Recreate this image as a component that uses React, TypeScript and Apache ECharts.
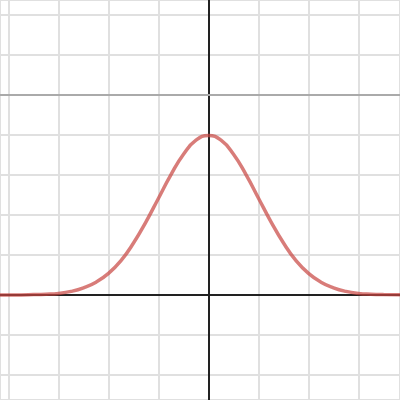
import React, { useEffect, useRef } from 'react';
import * as echarts from 'echarts';

// points (x in grid units, y in tenths)
const curveX = [
  -4.2, -3.9, -3.5, -3.25, -3, -2.75, -2.5, -2.25, -2, -1.75, -1.5, -1.25, -1, -0.75, -0.5, -0.25,
  0, 0.25, 0.5, 0.75, 1, 1.25, 1.5, 1.75, 2, 2.25, 2.5, 2.75, 3, 3.25, 3.5, 3.9,
];
const curveY = [
  0.0001, 0.0002, 0.001, 0.002, 0.004, 0.009, 0.018, 0.032, 0.054, 0.086, 0.13, 0.183, 0.242, 0.301, 0.352, 0.387,
  0.399, 0.387, 0.352, 0.301, 0.242, 0.183, 0.13, 0.086, 0.054, 0.032, 0.018, 0.009, 0.004, 0.002, 0.001, 0.0002,
];
const levelLine = 0.5;

const xRange = [-4.17, 3.83];
const yRange = [-0.2625, 0.7375];

const App: React.FC = () => {
  const chartRef = useRef<HTMLDivElement>(null);

  useEffect(() => {
    if (!chartRef.current) return;
    const chart = echarts.init(chartRef.current, null, { renderer: 'svg' });

    const gridLine = { show: true, lineStyle: { color: '#e0e0e0', width: 2 } };
    const axisLine = { show: true, onZero: true, lineStyle: { color: '#222', width: 2 } };

    chart.setOption({
      animation: false,
      backgroundColor: '#fff',
      grid: { left: 0, right: 0, top: 0, bottom: 0 },
      xAxis: {
        type: 'value',
        min: xRange[0],
        max: xRange[1],
        splitNumber: 8,
        axisLine,
        axisTick: { show: false },
        axisLabel: { show: false },
        splitLine: gridLine,
      },
      yAxis: {
        type: 'value',
        min: yRange[0],
        max: yRange[1],
        splitNumber: 10,
        axisLine,
        axisTick: { show: false },
        axisLabel: { show: false },
        splitLine: gridLine,
      },
      series: [
        {
          type: 'line',
          data: curveX.map((x, i) => [x, curveY[i]]),
          smooth: true,
          symbol: 'none',
          z: 5,
          lineStyle: { color: '#c74440', width: 3.5, opacity: 0.7 },
          markLine: {
            silent: true,
            symbol: 'none',
            label: { show: false },
            lineStyle: { color: '#aaa', width: 2, type: 'solid' },
            data: [{ yAxis: levelLine }],
          },
        },
      ],
    });

    return () => {
      chart.dispose();
    };
  }, []);

  return (
    <div
      ref={chartRef}
      style={{ position: 'fixed', left: 0, top: 0, width: '400px', height: '400px' }}
    />
  );
};

export default App;
